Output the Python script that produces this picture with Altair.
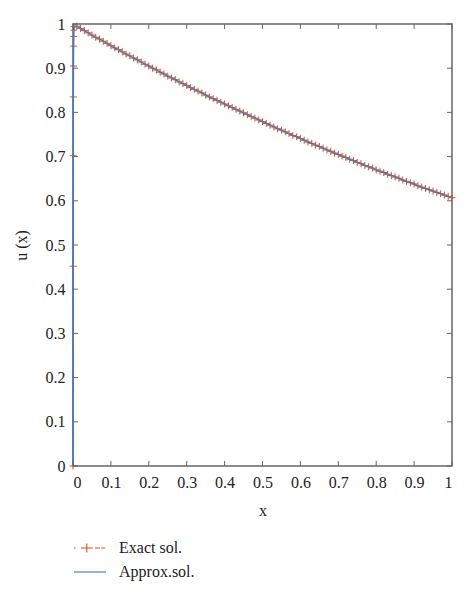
import altair as alt
import pandas as pd

# ---- data ----
# boundary-layer samples next to x = 0
x_layer = [0.0, 0.0003, 0.0006, 0.0009, 0.0012, 0.0015, 0.0018, 0.0021, 0.0024]
u_layer = [0.0, 0.452, 0.702, 0.835, 0.905, 0.950, 0.972, 0.986, 0.994]

# regular samples x = 0.01 ... 1.00
x_grid = [round(0.01 * k, 2) for k in range(1, 101)]
u_grid = [
    0.995, 0.990, 0.985, 0.980, 0.975, 0.970, 0.966, 0.961, 0.956, 0.951,
    0.946, 0.942, 0.937, 0.932, 0.928, 0.923, 0.919, 0.914, 0.909, 0.905,
    0.900, 0.896, 0.891, 0.887, 0.882, 0.878, 0.874, 0.869, 0.865, 0.861,
    0.856, 0.852, 0.848, 0.844, 0.839, 0.835, 0.831, 0.827, 0.823, 0.819,
    0.815, 0.811, 0.807, 0.803, 0.799, 0.795, 0.791, 0.787, 0.783, 0.779,
    0.775, 0.771, 0.767, 0.763, 0.760, 0.756, 0.752, 0.748, 0.745, 0.741,
    0.737, 0.733, 0.730, 0.726, 0.723, 0.719, 0.715, 0.712, 0.708, 0.705,
    0.701, 0.698, 0.694, 0.691, 0.687, 0.684, 0.680, 0.677, 0.674, 0.670,
    0.667, 0.664, 0.660, 0.657, 0.654, 0.651, 0.647, 0.644, 0.641, 0.638,
    0.634, 0.631, 0.628, 0.625, 0.622, 0.619, 0.616, 0.613, 0.610, 0.607,
]

exact_x = x_layer + x_grid
exact_u = u_layer + u_grid
approx_x = list(exact_x)
approx_u = list(exact_u)

ticks = [0, 0.1, 0.2, 0.3, 0.4, 0.5, 0.6, 0.7, 0.8, 0.9, 1]
series_names = ["Exact sol.", "Approx.sol."]
series_colors = ["#d95319", "#3d7cc9"]

exact_df = pd.DataFrame({"x": exact_x, "u": exact_u, "series": series_names[0]})
approx_df = pd.DataFrame({"x": approx_x, "u": approx_u, "series": series_names[1]})
tick_df = pd.DataFrame({"t": ticks})

W, H = 379, 442
FONT = "Liberation Serif"
BOX = "#666666"

xscale = alt.Scale(domain=[0, 1], nice=False)
yscale = alt.Scale(domain=[0, 1], nice=False)

x_axis = alt.Axis(values=ticks, format="~g", title="x", titleY=49,
                  titleBaseline="alphabetic", labelOverlap=False)
y_axis = alt.Axis(values=ticks, format="~g", title="u (x)", titleX=-47, titleY=221,
                  titleAngle=270, titleAlign="center", titleBaseline="alphabetic",
                  labelOverlap=False)

x_enc = alt.X("x:Q", scale=xscale, axis=x_axis)
y_enc = alt.Y("u:Q", scale=yscale, axis=y_axis)

legend_shape = (
    "datum.value == 'Exact sol.' ? "
    "'M-2,0H-1.8M-1.15,0H0.35M-0.4,-0.55V0.55M0.6,0H1.25M1.4,0H1.9' : "
    "'M-2,0H2'"
)

color_enc = alt.Color(
    "series:N",
    scale=alt.Scale(domain=series_names, range=series_colors),
    sort=series_names,
    legend=alt.Legend(
        title=None, orient="none", legendX=8, legendY=515, direction="vertical",
        symbolType=alt.ExprRef(expr=legend_shape),
        symbolSize=256, symbolStrokeWidth=1.1, labelOffset=20, rowPadding=7,
        symbolFillColor="transparent",
        labelFont=FONT, labelFontSize=16, labelColor="#222", padding=0,
    ),
)

exact_line = alt.Chart(exact_df).mark_line(strokeWidth=1, strokeDash=[7, 3, 1.5, 3]).encode(
    x=x_enc, y=y_enc, color=color_enc
)
exact_pts = alt.Chart(exact_df).mark_point(
    shape="M-1,0H1M0,-1V1", size=49, filled=False, strokeWidth=1, opacity=1,
    color=series_colors[0],
).encode(x=x_enc, y=y_enc)
approx_line = alt.Chart(approx_df).mark_line(strokeWidth=1.4).encode(
    x=x_enc, y=y_enc, color=color_enc
)

tick_color = BOX
tx = alt.X("t:Q", scale=xscale, axis=x_axis)
ty = alt.Y("t:Q", scale=yscale, axis=y_axis)
bottom_ticks = alt.Chart(tick_df).mark_rule(color=tick_color, strokeWidth=1).encode(
    x=tx, y=alt.value(H), y2=alt.value(H - 5))
top_ticks = alt.Chart(tick_df).mark_rule(color=tick_color, strokeWidth=1).encode(
    x=tx, y=alt.value(0), y2=alt.value(5))
left_ticks = alt.Chart(tick_df).mark_rule(color=tick_color, strokeWidth=1).encode(
    y=ty, x=alt.value(0), x2=alt.value(5))
right_ticks = alt.Chart(tick_df).mark_rule(color=tick_color, strokeWidth=1).encode(
    y=ty, x=alt.value(W), x2=alt.value(W - 5))

chart = alt.layer(
    exact_line, exact_pts, approx_line,
    bottom_ticks, top_ticks, left_ticks, right_ticks,
).properties(
    width=W, height=H,
    autosize=alt.AutoSizeParams(type="none"),
    padding={"left": 65, "top": 16, "right": 14, "bottom": 124},
    background="white",
).configure_view(
    stroke=BOX, strokeWidth=1.5,
).configure_axis(
    domain=False, ticks=False, grid=False,
    labelFont=FONT, labelFontSize=16, labelColor="#222", labelPadding=8,
    titleFont=FONT, titleFontSize=16, titleFontWeight="normal", titleColor="#222",
)

chart.save("out.html", embed_options={"renderer": "svg", "actions": False})
